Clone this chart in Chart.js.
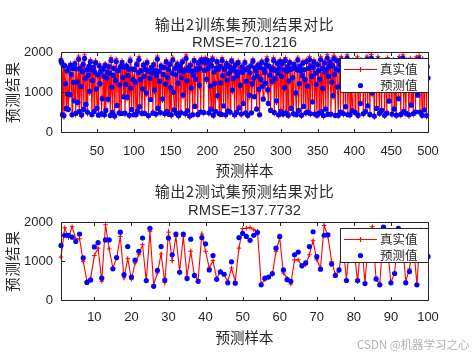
<!DOCTYPE html>
<html><head><meta charset="utf-8">
<script src="https://cdn.jsdelivr.net/npm/chart.js@4/dist/chart.umd.min.js"></script>
<style>
html,body{margin:0;padding:0;background:#fff;}
#wrap{position:relative;width:474px;height:355px;overflow:hidden;background:#fff;}
canvas{position:absolute;left:0;}
#c1{top:0;}
#c2{top:180px;}
#wm{position:absolute;left:357px;top:336px;font:11.5px "Noto Sans CJK SC";color:#b4b4b4;white-space:nowrap;}
</style></head>
<body>
<div id="wrap">
<canvas id="c1" width="474" height="180"></canvas>
<canvas id="c2" width="474" height="175"></canvas>
<div id="wm">CSDN @机器学习之心</div>
</div>
<script>
// ---------------- data ----------------
const trainTitle = '输出2训练集预测结果对比';
const trainRmse = 'RMSE=70.1216';
const testTitle = '输出2测试集预测结果对比';
const testRmse = 'RMSE=137.7732';
const xAxisTitle = '预测样本';
const yAxisTitle = '预测结果';
const seriesNames = ['真实值', '预测值'];
const yTicks = [0, 1000, 2000];
const trainXTicks = [50, 100, 150, 200, 250, 300, 350, 400, 450, 500];
const testXTicks = [10, 20, 30, 40, 50, 60, 70, 80, 90, 100];

const trainTrue = [
1840,1690,480,1720,360,1610,1270,540,1480,1010,610,1560,880,1720,1390,470,1640,1180,830,1760,420,1530,1310,690,1900,560,1640,1080,380,1460,1750,520,1930,1290,740,1600,450,1370,1690,960,1810,1510,400,1230,1660,560,1450,1790,1020,640,
1380,470,1710,1150,1560,420,880,1620,1340,390,1720,590,1290,1550,770,1680,1420,450,1860,1060,540,1370,1640,360,1230,1830,710,1480,1590,440,1120,1680,500,1790,1310,930,1570,430,1240,1700,820,1460,1620,380,1850,1040,610,1530,1370,470,
1610,1190,400,1750,560,1430,1890,680,1250,1580,430,1020,1720,1340,500,1610,920,1790,1480,370,1560,1280,860,1660,1430,520,1730,990,1580,410,1350,1900,640,1470,1210,450,1700,1560,780,1390,1660,420,1140,1810,560,1300,1620,480,1740,1050,
390,1520,1870,940,600,1640,1380,430,1750,1160,370,1580,1690,520,1300,1810,870,1460,1600,420,1930,1220,580,1660,1490,360,1720,1040,1570,470,1380,1840,690,1260,1630,1500,400,1780,1110,1650,540,1860,1720,1810,450,1590,1870,1680,1260,1840,
1530,440,1760,1090,620,1700,1880,380,1450,1270,560,1640,1810,850,1520,420,1690,1170,480,1860,1360,700,1620,1540,390,1760,1240,570,1410,1680,460,1580,1830,990,1290,1640,390,1720,1460,530,1350,1790,650,1550,1110,410,1670,1440,760,1600,
1790,440,1210,1620,380,1560,860,1430,1700,520,1150,1830,1300,940,1650,1480,620,1340,1720,1010,470,1560,1250,1800,1090,870,1610,1440,1160,1730,1880,1000,760,1690,1370,590,1500,1210,1640,1860,450,1280,1590,730,1760,1420,390,1650,1820,560,
1340,1770,410,1600,1050,1860,520,1470,1680,380,1220,1790,1510,640,1630,1300,420,1740,1560,920,470,1600,1870,590,1150,1690,1480,380,1360,1780,690,1510,1250,440,1820,1090,540,1640,1890,420,1700,1330,800,1560,1810,490,1420,1130,380,1730,
1580,430,1260,1890,560,1640,1030,370,1780,1450,620,1520,1940,480,1330,1690,1800,410,1190,1710,860,1920,1390,450,1620,1840,1070,380,1500,1730,540,1890,1160,1580,420,1760,1350,680,1540,1930,470,1230,1690,390,1620,1010,580,1810,1290,1640,
450,1700,1230,1880,380,1490,1620,760,1820,1120,1560,420,1740,1400,560,1640,1900,700,1320,1780,400,1580,1940,920,1470,1200,360,1790,1530,640,1270,1890,1050,430,1660,1380,590,1800,1140,1630,380,1720,1360,510,1860,1480,820,1540,1710,1160,
410,1660,1820,620,1350,1540,380,1790,1210,880,1890,1450,400,1700,1280,1930,560,1600,1030,430,1810,1370,1180,390,1660,1850,720,1510,1250,420,1770,1580,540,1880,1300,970,1690,1910,460,1560,1140,380,1840,1640,600,1450,1720,370,1680,1390
];
const trainPred = [
1780,1740,430,1660,410,1660,1210,590,1530,950,560,1610,940,1670,1440,430,1590,1240,780,1700,470,1580,1250,740,1820,510,1590,1140,430,1510,1690,570,1840,1340,690,1550,500,1420,1640,1020,1750,1560,440,1290,1610,510,1500,1730,1080,590,
1430,420,1650,1210,1510,460,830,1570,1400,430,1670,540,1350,1500,820,1630,1470,410,1790,1120,490,1420,1590,400,1290,1760,660,1530,1540,480,1180,1630,460,1730,1360,880,1620,470,1190,1650,870,1410,1570,420,1780,1100,560,1580,1310,430,
1560,1250,440,1690,510,1490,1810,630,1310,1530,470,1080,1670,1390,460,1560,980,1730,1530,410,1510,1340,810,1610,1480,470,1680,1050,1530,450,1410,1820,590,1520,1270,490,1650,1610,830,1440,1610,460,1200,1750,510,1360,1570,440,1690,1110,
430,1470,1800,1000,550,1590,1430,470,1690,1220,410,1530,1640,480,1360,1750,930,1510,1550,460,1840,1280,530,1610,1540,400,1670,1100,1520,430,1430,1780,640,1320,1580,1550,440,1720,1170,1600,500,1800,1770,1750,490,1540,1810,1730,1320,1790,
1580,480,1700,1150,570,1650,1810,420,1500,1210,510,1590,1750,910,1570,460,1640,1230,440,1790,1410,650,1570,1590,430,1700,1300,520,1460,1630,500,1530,1770,1050,1340,1590,430,1670,1510,490,1400,1730,600,1500,1170,450,1620,1490,710,1550,
1730,480,1270,1570,420,1610,920,1480,1650,480,1210,1770,1350,880,1600,1530,570,1400,1670,1070,430,1610,1310,1740,1150,820,1560,1490,1220,1680,1800,1060,710,1640,1420,540,1550,1270,1590,1790,490,1340,1540,780,1710,1470,430,1600,1760,510,
1390,1710,450,1550,1110,1790,470,1520,1630,420,1280,1730,1560,590,1580,1360,460,1690,1610,980,430,1550,1800,540,1210,1640,1530,420,1410,1720,640,1560,1310,480,1760,1150,500,1590,1810,460,1650,1390,750,1610,1750,450,1470,1190,420,1680,
1530,470,1320,1810,510,1590,1090,410,1720,1500,570,1570,1850,440,1390,1640,1740,450,1250,1660,910,1840,1440,410,1570,1780,1130,420,1550,1680,500,1810,1220,1530,460,1700,1400,630,1590,1850,430,1290,1640,430,1570,1070,530,1750,1350,1590,
490,1650,1290,1800,420,1540,1570,710,1760,1180,1510,460,1690,1450,510,1590,1820,650,1380,1720,440,1530,1850,980,1520,1260,400,1730,1580,590,1330,1810,1110,470,1610,1430,540,1740,1200,1580,420,1670,1410,470,1790,1530,770,1590,1660,1220,
450,1610,1760,570,1410,1590,420,1730,1270,830,1810,1500,440,1650,1340,1850,510,1550,1090,470,1750,1420,1240,430,1610,1780,670,1560,1310,460,1720,1630,500,1800,1360,920,1640,1830,500,1610,1200,420,1780,1590,550,1500,1670,410,1630,1350
];

const testTrue = [
1100,1850,1600,1880,1560,1570,990,480,560,1140,
1330,480,1930,1310,820,1070,1630,570,1060,530,
950,1160,1420,480,1760,390,690,1180,450,1740,
1010,1630,730,1630,600,1250,610,520,1690,1250,
820,1010,550,740,650,480,820,480,1330,1830,
1840,1860,1800,1760,410,520,580,650,1250,1590,
690,560,410,1030,1030,860,910,1160,1520,1030,
820,1910,1630,990,650,740,1500,520,1600,1350,
470,1550,440,1650,1880,520,420,1830,1400,450,
700,1800,1600,480,800,1500,400,1800,1780,1150
];
const testPred = [
1400,1660,1660,1610,1500,1690,1080,450,510,1360,
1470,560,1540,1540,800,1090,1740,650,1370,590,
1020,1250,1590,500,1840,350,760,1370,510,1590,
1160,1690,710,1690,550,1560,630,480,1600,1440,
770,1140,530,720,660,440,980,430,1600,1710,
1630,1530,1660,1730,390,560,590,680,1330,1630,
770,520,480,1160,1230,880,950,1370,1750,1110,
790,1660,1670,920,630,770,1450,500,1550,1300,
500,1500,420,1600,1700,540,390,1870,1450,440,
680,1840,1550,440,730,1450,390,1570,1660,1110
];

// ---------------- drawing ----------------
Chart.defaults.font.family = '"Liberation Sans", Arial, sans-serif';
Chart.defaults.color = '#262626';
const AX = '#262626';
const CJK = '"Noto Sans CJK SC", sans-serif';

function toXY(arr){ return arr.map((v,i)=>({x:i+1, y:v})); }

function matlabPlugin(cfg){
  return {
    id:'matlab',
    afterDraw(chart){
      const {ctx, chartArea:a, scales} = chart;
      const xs = scales.x, ys = scales.y;
      const L = Math.round(a.left)+0.5, R = Math.round(a.right)+0.5, T = Math.round(a.top)+0.5, B = Math.round(a.bottom)+0.5;
      ctx.save();
      ctx.strokeStyle = AX; ctx.lineWidth = 1;
      ctx.beginPath();
      ctx.rect(L, T, R-L, B-T);
      const tl = 3.5;
      cfg.xTicks.forEach(v=>{
        const px = Math.round(xs.getPixelForValue(v))+0.5;
        ctx.moveTo(px, B); ctx.lineTo(px, B-tl);
        ctx.moveTo(px, T); ctx.lineTo(px, T+tl);
      });
      yTicks.forEach(v=>{
        const py = Math.round(ys.getPixelForValue(v))+0.5;
        ctx.moveTo(L, py); ctx.lineTo(L+tl, py);
        ctx.moveTo(R, py); ctx.lineTo(R-tl, py);
      });
      ctx.stroke();

      const cx = (a.left + a.right)/2;
      ctx.fillStyle = '#2e2e2e';
      ctx.textAlign = 'center'; ctx.textBaseline = 'middle';
      ctx.font = '15px ' + CJK;
      ctx.letterSpacing = '0.5px';
      ctx.fillText(cfg.title, cx, cfg.titleY);
      ctx.letterSpacing = '0px';
      ctx.font = '14.8px "Liberation Sans", Arial, sans-serif';
      ctx.fillText(cfg.rmse, cx, cfg.rmseY);

      ctx.fillStyle = AX;
      ctx.font = '14.5px ' + CJK;
      ctx.fillText(xAxisTitle, cx, cfg.xTitleY);
      ctx.save();
      ctx.translate(12.5, (a.top + a.bottom)/2);
      ctx.rotate(-Math.PI/2);
      ctx.letterSpacing = '1px';
      ctx.fillText(yAxisTitle, 0, 0);
      ctx.restore();

      const lx = 340, lw = 88, ly = Math.round(a.top) + 6, lh = 34;
      ctx.fillStyle = '#fff';
      ctx.fillRect(lx, ly, lw, lh);
      ctx.strokeStyle = AX; ctx.lineWidth = 1;
      ctx.strokeRect(lx+0.5, ly+0.5, lw, lh);
      const r1 = ly + 11.5, r2 = ly + 27.5;
      ctx.strokeStyle = '#ff0000'; ctx.lineWidth = 1.2;
      ctx.beginPath(); ctx.moveTo(344, r1); ctx.lineTo(377, r1);
      ctx.moveTo(360.5, r1-2.5); ctx.lineTo(360.5, r1+2.5);
      ctx.stroke();
      ctx.fillStyle = '#0000ff';
      ctx.beginPath(); ctx.arc(360.5, r2, 2.6, 0, Math.PI*2); ctx.fill();
      ctx.fillStyle = AX;
      ctx.textAlign = 'left';
      ctx.font = '12.5px ' + CJK;
      ctx.fillText(seriesNames[0], 380, r1);
      ctx.fillText(seriesNames[1], 380, r2);
      ctx.restore();
    }
  };
}

function makeChart(id, tv, pv, cfg){
  const n = tv.length;
  new Chart(document.getElementById(id), {
    type:'line',
    data:{
      datasets:[
        {label:seriesNames[0], data:toXY(tv), borderColor:'#ff0000', borderWidth:1.1,
         pointStyle:'cross', pointRadius:2.3, pointBorderColor:'#ff0000', pointBorderWidth:1,
         pointBackgroundColor:'#ff0000', tension:0, order:2, clip:false},
        {label:seriesNames[1], data:toXY(pv), showLine:false, borderColor:'#0000ff',
         pointStyle:'circle', pointRadius:2.6, pointBorderWidth:0,
         pointBackgroundColor:'#0000ff', order:1, clip:false}
      ]
    },
    options:{
      responsive:false, animation:false, devicePixelRatio:1,
      events:[],
      layout:{padding:{left:0, right:46, top:cfg.padTop, bottom:0}},
      plugins:{legend:{display:false}, tooltip:{enabled:false}, title:{display:false}},
      scales:{
        x:{type:'linear', min:1, max:n,
           grid:{display:false, drawTicks:false}, border:{display:false},
           afterBuildTicks(s){ s.ticks = cfg.xTicks.map(v=>({value:v})); },
           afterFit(s){ s.height = cfg.xAxisH; },
           ticks:{font:{size:13}, color:AX, padding:cfg.xTickPad, maxRotation:0, autoSkip:false,
                  callback:v=>String(v)}},
        y:{min:0, max:2000,
           grid:{display:false, drawTicks:false}, border:{display:false},
           afterBuildTicks(s){ s.ticks = yTicks.map(v=>({value:v})); },
           afterFit(s){ s.width = 61; },
           ticks:{font:{size:13}, color:AX, padding:8, callback:v=>String(v)}}
      }
    },
    plugins:[matlabPlugin(cfg)]
  });
}

makeChart('c1', trainTrue, trainPred, {
  padTop:52, xAxisH:48, xTickPad:12, xTicks:trainXTicks,
  title:trainTitle, rmse:trainRmse, titleY:24, rmseY:42.5, xTitleY:170
});
makeChart('c2', testTrue, testPred, {
  padTop:42, xAxisH:55, xTickPad:10, xTicks:testXTicks,
  title:testTitle, rmse:testRmse, titleY:11.5, rmseY:31, xTitleY:157
});
</script>
</body></html>
